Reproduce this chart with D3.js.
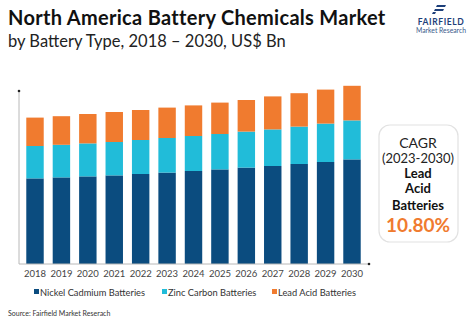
<!DOCTYPE html>
<html>
<head>
<meta charset="utf-8">
<script src="https://cdn.jsdelivr.net/npm/d3@7"></script>
<style>
  body { margin: 0; background: #fff; }
  svg { display: block; font-family: "Lato", "Open Sans", sans-serif; }
</style>
</head>
<body>
<svg id="chart" width="474" height="322"></svg>
<script>
// data, US$ Bn
var years = ["2018","2019","2020","2021","2022","2023","2024","2025","2026","2027","2028","2029","2030"]
var nickelCadmium = [4.28, 4.33, 4.38, 4.43, 4.50, 4.57, 4.65, 4.73, 4.82, 4.90, 5.00, 5.10, 5.23]
var zincCarbon    = [1.62, 1.63, 1.65, 1.67, 1.70, 1.73, 1.75, 1.77, 1.80, 1.83, 1.87, 1.92, 1.95]
var leadAcid      = [1.42, 1.43, 1.47, 1.50, 1.50, 1.52, 1.53, 1.57, 1.58, 1.65, 1.67, 1.70, 1.73]
var seriesNames = ["Nickel Cadmium Batteries", "Zinc Carbon Batteries", "Lead Acid Batteries"]
var colors = ["#0b4c7f", "#21bcd9", "#f07b2f"]

var svg = d3.select("#chart")

var rows = years.map(function(y, i) {
	return {year: y, s0: nickelCadmium[i], s1: zincCarbon[i], s2: leadAcid[i]}
})
var stacked = d3.stack().keys(["s0","s1","s2"])(rows)

var x = d3.scaleBand()
	.domain(years)
	.range([21, 366])
	.paddingInner(0.34)
	.paddingOuter(0.2)

var y = d3.scaleLinear()
	.domain([0, 8.65])
	.range([264, 91])

// title
svg.append("text")
	.attr("x", 8).attr("y", 25)
	.attr("font-size", 20).attr("font-weight", "bold").attr("letter-spacing", 0.3).attr("fill", "#111")
	.text("North America Battery Chemicals Market")
svg.append("text")
	.attr("x", 8).attr("y", 47)
	.attr("font-size", 16.5).attr("fill", "#222")
	.text("by Battery Type, 2018 \u2013 2030, US$ Bn")

// logo
var logo = svg.append("g")
logo.append("path")
	.attr("d", "M437,5 L446,5 L445,7 L436,7 Z M435,9 L444,9 L443,11 L434,11 Z M433,12 L436,12 L435,14 L432,14 Z")
	.attr("fill", "#1d3f7a")
logo.append("text")
	.attr("x", 441).attr("y", 25).attr("text-anchor", "middle")
	.attr("font-size", 8.5).attr("font-weight", "bold").attr("letter-spacing", 0.6).attr("fill", "#1d3f7a")
	.text("FAIRFIELD")
logo.append("text")
	.attr("x", 441).attr("y", 33).attr("text-anchor", "middle")
	.attr("font-size", 6.8).attr("fill", "#3a5a8c")
	.text("Market Research")

// bars
svg.append("g").selectAll("g")
	.data(stacked)
	.join("g")
		.attr("fill", function(d, i) { return colors[i] })
	.selectAll("rect")
	.data(function(d) { return d })
	.join("rect")
		.attr("x", function(d) { return x(d.data.year) })
		.attr("y", function(d) { return y(d[1]) })
		.attr("width", x.bandwidth())
		.attr("height", function(d) { return y(d[0]) - y(d[1]) })

// axes
svg.append("line")
	.attr("x1", 19).attr("x2", 19).attr("y1", y.range()[1]).attr("y2", 264)
	.attr("stroke", "#b8b8b8").attr("stroke-width", 1)
svg.append("line")
	.attr("x1", 19).attr("x2", 369).attr("y1", 264).attr("y2", 264)
	.attr("stroke", "#b8b8b8").attr("stroke-width", 1)
svg.append("circle").attr("cx", 19).attr("cy", y.range()[1]).attr("r", 1.3).attr("fill", "#222")
svg.append("circle").attr("cx", 369).attr("cy", 264).attr("r", 1.3).attr("fill", "#222")

var xAxis = d3.axisBottom(x).tickSize(0).tickPadding(6)
svg.append("g")
	.attr("transform", "translate(0,264)")
	.call(xAxis)
	.call(function(g) { g.select(".domain").remove() })
	.selectAll("text")
		.attr("font-size", 9.5).attr("fill", "#444")
		.attr("font-family", "Lato, sans-serif")

// legend
var legendX = [34, 162, 272]
var legend = svg.append("g").selectAll("g")
	.data(seriesNames)
	.join("g")
		.attr("transform", function(d, i) { return "translate(" + legendX[i] + ",292)" })
legend.append("rect")
	.attr("x", 0).attr("y", -3).attr("width", 5).attr("height", 5)
	.attr("fill", function(d, i) { return colors[i] })
legend.append("text")
	.attr("x", 6).attr("y", 3.5)
	.attr("font-size", 9.3).attr("fill", "#333")
	.text(function(d) { return d })

// source
svg.append("text")
	.attr("x", 8).attr("y", 316)
	.attr("font-size", 7).attr("fill", "#333")
	.text("Source: Fairfield Market Reserach")

// CAGR box
var box = svg.append("g")
box.append("rect")
	.attr("x", 379).attr("y", 125).attr("width", 79).attr("height", 117)
	.attr("rx", 11)
	.attr("fill", "#fff").attr("stroke", "#e2e2e2").attr("stroke-width", 1.2)
var boxLines = [
	{t: "CAGR", y: 148, size: 14, w: "normal", c: "#222"},
	{t: "(2023-2030)", y: 163, size: 13, w: "normal", c: "#222"},
	{t: "Lead", y: 178, size: 13, w: "bold", c: "#111"},
	{t: "Acid", y: 193, size: 13, w: "bold", c: "#111"},
	{t: "Batteries", y: 210, size: 13, w: "bold", c: "#111"},
	{t: "10.80%", y: 232, size: 19, w: "bold", c: "#f07b2f"}
]
box.selectAll("text.l")
	.data(boxLines)
	.join("text")
		.attr("class", "l")
		.attr("x", 418).attr("y", function(d) { return d.y })
		.attr("text-anchor", "middle")
		.attr("font-size", function(d) { return d.size })
		.attr("font-weight", function(d) { return d.w })
		.attr("fill", function(d) { return d.c })
		.text(function(d) { return d.t })
</script>
</body>
</html>
